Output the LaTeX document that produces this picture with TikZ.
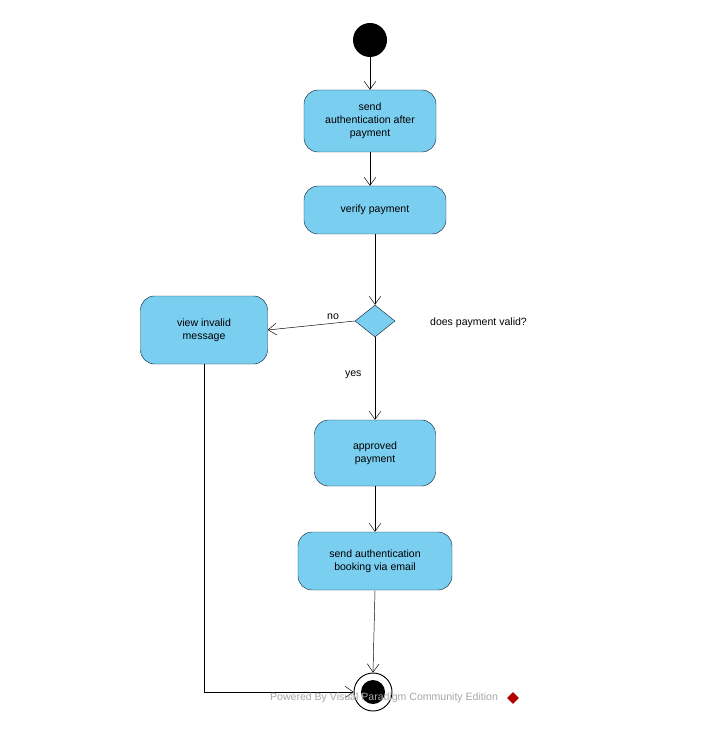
\documentclass[tikz,border=0pt]{standalone}
\usepackage{fontspec}
\setmainfont{Liberation Sans}
\usetikzlibrary{shapes.geometric, arrows.meta, positioning}
\definecolor{actblue}{RGB}{122,206,240}
\definecolor{actline}{RGB}{30,50,70}

\begin{document}
\begin{tikzpicture}[x=0.03cm, y=-0.03cm]
    \tikzstyle{action} = [rectangle, rounded corners=12pt, draw=actline, fill=actblue, align=center, font=\fontsize{9}{11}\selectfont, inner sep=2pt]
    \tikzstyle{decision} = [diamond, draw=actline, fill=actblue, minimum width=40*0.03cm, minimum height=32*0.03cm, inner sep=0pt]
    \tikzstyle{arrow} = [-{Straight Barb[length=7pt, width=10pt]}, black]
    \tikzstyle{lbl} = [font=\fontsize{9}{11}\selectfont]

    \useasboundingbox (0,0) rectangle (716,740);

    \node[circle, fill=black, minimum size=34*0.03cm, inner sep=0pt] (start) at (370,40) {};
    \node[action, minimum width=132*0.03cm, minimum height=62*0.03cm] (sendauth) at (370,121) {send\\authentication after\\payment};
    \node[action, minimum width=142*0.03cm, minimum height=48*0.03cm] (verify) at (375,210) {verify payment};
    \node[decision] (valid) at (375,321) {};
    \node[lbl, anchor=west] (question) at (426,323) {does payment valid?};
    \node[action, minimum width=127*0.03cm, minimum height=68*0.03cm] (invalid) at (204,330) {view invalid\\message};
    \node[action, minimum width=121*0.03cm, minimum height=66*0.03cm] (approved) at (375,453) {approved\\payment};
    \node[action, minimum width=154*0.03cm, minimum height=58*0.03cm] (booking) at (375,561) {send authentication\\booking via email};
    \node[circle, draw=black, thick, minimum size=38*0.03cm, inner sep=0pt] (end) at (373,692) {};
    \node[circle, fill=black, minimum size=24*0.03cm, inner sep=0pt] (endcore) at (373,692) {};
    \coordinate (corner) at (204,692);

    \draw[arrow] (start) -- (start |- sendauth.north);
    \draw[arrow] (sendauth.south) -- (sendauth.south |- verify.north);
    \draw[arrow] (verify) -- (valid.north);
    \draw[arrow] (valid.west) -- node[lbl, above, pos=0.25] {no} (invalid.east);
    \draw[arrow] (valid.south) -- node[lbl, left, pos=0.45, xshift=-8pt] {yes} (approved.north);
    \draw[arrow] (approved) -- (booking.north);
    \draw[arrow] (booking.south) -- (end.north);
    \draw[arrow] (invalid.south) -- (corner) -- (end.west);

    \node[text=gray!70, font=\fontsize{9}{11}\selectfont, anchor=west] (watermark) at (266,698) {Powered By Visual Paradigm Community Edition};
    \node[diamond, fill=red!70!black, minimum size=12*0.03cm, inner sep=0pt, right=4pt of watermark] (vplogo) {};
\end{tikzpicture}
\end{document}
